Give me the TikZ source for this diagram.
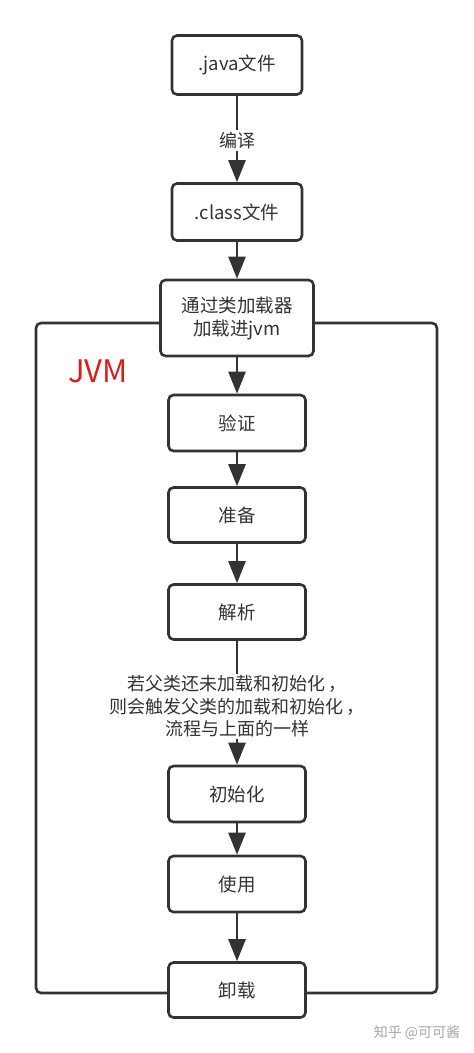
\documentclass[tikz,border=0pt]{standalone}
\usepackage{fontspec}
\setmainfont{Noto Sans CJK SC}
\usetikzlibrary{arrows.meta}
\definecolor{ink}{HTML}{333333}
\definecolor{jvmred}{HTML}{D81E1E}
\begin{document}
\begin{tikzpicture}[x=1pt,y=-1pt,
  box/.style={draw=ink, text=ink, line width=2.6pt, rounded corners=5pt, fill=white,
    font=\fontsize{18.5}{23}\selectfont, align=center, inner sep=0pt, minimum width=137pt, minimum height=55pt},
  arr/.style={draw=ink, line width=2.6pt, -{Triangle[length=22pt,width=17pt]}},
  lbl/.style={fill=white, text=ink, font=\fontsize{18}{22.5}\selectfont, align=center, inner sep=2pt},
  frame/.style={draw=ink, line width=2.6pt, rounded corners=5pt}
]
\useasboundingbox (0,0) rectangle (474,1053);
\draw[frame] (36,323) rectangle (437,993);
\node[box, minimum width=130pt, minimum height=59pt] (java) at (237,65) {.java文件};
\node[box, minimum width=130pt, minimum height=57pt] (class) at (237,212) {.class文件};
\node[box, minimum width=153pt, minimum height=76pt] (load) at (237,318) {通过类加载器\\加载进jvm};
\node[box, minimum height=56pt] (verify) at (237,423) {验证};
\node[box] (prepare) at (237,515) {准备};
\node[box] (parse) at (237,612) {解析};
\node[box, minimum height=56pt] (init) at (237,794) {初始化};
\node[box, minimum height=56pt] (use) at (237,884) {使用};
\node[box] (unload) at (237,990) {卸载};
\node[text=jvmred, font=\fontsize{31}{33}\selectfont] (jvm) at (98,371) {JVM};
\node[text=black!35, font=\fontsize{14}{16}\selectfont] (wm) at (417,1033) {知乎 @可可酱};

\draw[arr] (java) -- node[lbl, pos=0.52] (compile) {编译} (class);
\draw[arr] (class) -- (load);
\draw[arr] (load) -- (verify);
\draw[arr] (verify) -- (prepare);
\draw[arr] (prepare) -- (parse);
\draw[arr] (parse) -- node[lbl, pos=0.53] (note) {若父类还未加载和初始化\hspace{3pt}，\\则会触发父类的加载和初始化\hspace{3pt}，\\流程与上面的一样} (init);
\draw[arr] (init) -- (use);
\draw[arr] (use) -- (unload);
\end{tikzpicture}
\end{document}
